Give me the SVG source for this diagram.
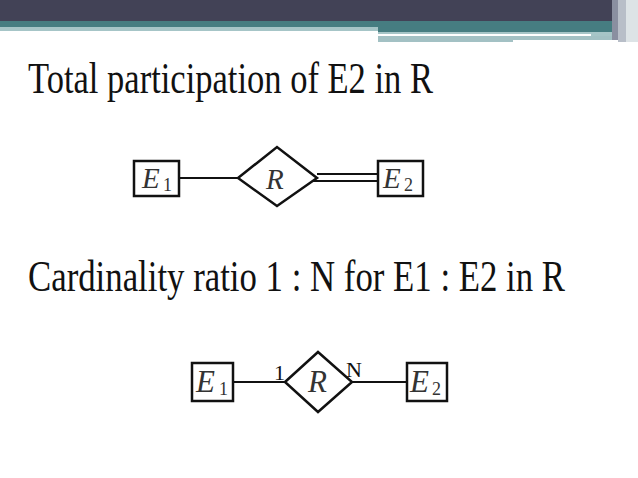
<svg xmlns="http://www.w3.org/2000/svg" width="638" height="478" viewBox="0 0 638 478">
<style>
.title{font-family:"Liberation Serif","Times New Roman",serif;font-size:44px;fill:#111}
.ent{fill:#fff;stroke:#111;stroke-width:2.5}
.rel{fill:#fff;stroke:#111;stroke-width:2.5;stroke-linejoin:miter}
.ln{stroke:#111;stroke-width:2;fill:none}
.m{font-family:"Liberation Serif","Times New Roman",serif;font-style:italic;font-size:29px;fill:#333}
.m2{font-family:"Liberation Serif","Times New Roman",serif;font-style:italic;font-size:31px;fill:#333}
.sub{font-family:"Liberation Serif","Times New Roman",serif;font-size:18px;fill:#333}
.card{font-family:"Liberation Serif","Times New Roman",serif;font-size:22px;fill:#111}
</style>
<rect width="638" height="478" fill="#fff"/>
<g id="header">
<rect x="0" y="0" width="638" height="21" fill="#424256"/>
<rect x="0" y="21" width="612" height="6" fill="#467d81"/>
<rect x="0" y="27" width="378" height="4" fill="#a6c5c7"/>
<rect x="378" y="27" width="234" height="5" fill="#467d81"/>
<rect x="378" y="32" width="234" height="2" fill="#a6c5c7"/>
<rect x="378" y="34" width="213" height="2" fill="#ffffff"/>
<rect x="591" y="34" width="21" height="6" fill="#a6c5c7"/>
<rect x="378" y="36" width="135" height="6" fill="#a3c1c4"/>
<rect x="513" y="36" width="99" height="4" fill="#a3c1c4"/>
<rect x="612" y="0" width="6" height="40" fill="#8a8fa0"/>
<rect x="618" y="0" width="8" height="42" fill="#b8bec8"/>
<rect x="626" y="0" width="12" height="42" fill="#dde3e6"/>
</g>
<text class="title" x="28" y="93" textLength="405" lengthAdjust="spacingAndGlyphs">Total participation of E2 in R</text>
<text class="title" x="28" y="291" textLength="537" lengthAdjust="spacingAndGlyphs">Cardinality ratio 1 : N for E1 : E2 in R</text>
<g id="connectors">
<line class="ln" x1="179" y1="178" x2="238" y2="178"/>
<line class="ln" x1="317" y1="174" x2="378" y2="174"/>
<line class="ln" x1="312" y1="181" x2="378" y2="181"/>
<line class="ln" x1="233" y1="382" x2="285" y2="382"/>
<line class="ln" x1="352" y1="382" x2="407" y2="382"/>
</g>
<g id="E1a">
<rect class="ent" x="134" y="161" width="45" height="35"/>
<text class="m" x="142" y="188">E</text><text class="sub" x="163" y="191">1</text>
</g>
<g id="Ra">
<polygon class="rel" points="238,178 277,147 317,178 277,206"/>
<text class="m" x="266" y="189">R</text>
</g>
<g id="E2a">
<rect class="ent" x="378" y="161" width="45" height="35"/>
<text class="m" x="383" y="188">E</text><text class="sub" x="404" y="191">2</text>
</g>
<g id="E1b">
<rect class="ent" x="192" y="363" width="41" height="38"/>
<text class="m2" x="196" y="392">E</text><text class="sub" x="219" y="395">1</text>
</g>
<g id="Rb">
<polygon class="rel" points="285,382 318,352 352,382 318,412"/>
<text class="m2" x="308" y="392">R</text>
</g>
<g id="E2b">
<rect class="ent" x="407" y="363" width="40" height="38"/>
<text class="m2" x="410" y="392">E</text><text class="sub" x="432" y="395">2</text>
</g>
<text class="card" x="274" y="380">1</text>
<text class="card" x="346" y="377">N</text>
</svg>
